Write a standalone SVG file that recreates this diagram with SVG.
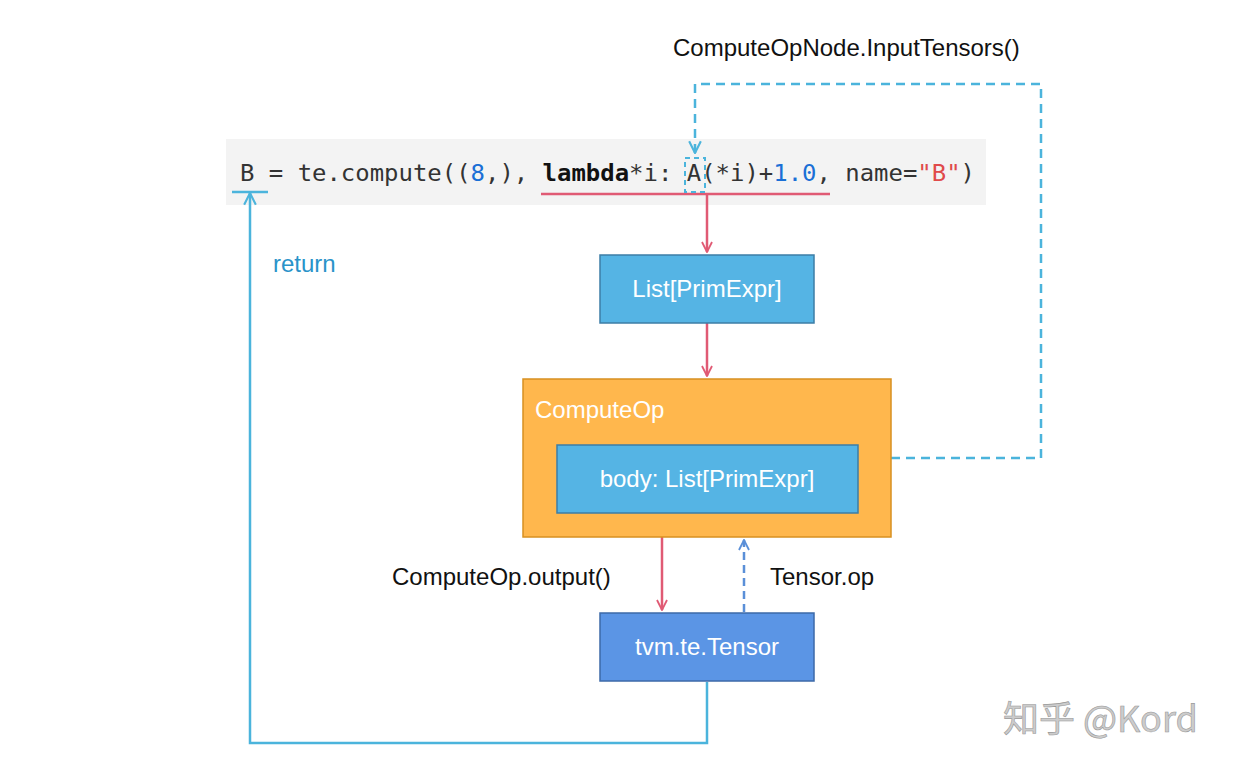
<svg xmlns="http://www.w3.org/2000/svg" width="1239" height="770" viewBox="0 0 1239 770">
<defs>
<marker id="ar" viewBox="0 0 12 12" refX="11" refY="6" markerWidth="12" markerHeight="12" markerUnits="userSpaceOnUse" orient="auto"><path d="M1,1 L11,6 L1,11" fill="none" stroke="#e05a74" stroke-width="1.8"/></marker>
<marker id="ab" viewBox="0 0 12 12" refX="11" refY="6" markerWidth="14" markerHeight="14" markerUnits="userSpaceOnUse" orient="auto"><path d="M1,1 L11,6 L1,11" fill="none" stroke="#4bb4dc" stroke-width="1.8"/></marker>
<marker id="ad" viewBox="0 0 12 12" refX="11" refY="6" markerWidth="12" markerHeight="12" markerUnits="userSpaceOnUse" orient="auto"><path d="M1,1 L11,6 L1,11" fill="none" stroke="#5a8fd8" stroke-width="1.8"/></marker>
<style>
text{font-family:"Liberation Sans",Arial,sans-serif;font-size:24px}
.w{fill:#fff}
.code{font-family:"DejaVu Sans Mono","Liberation Mono",monospace;font-size:23px;fill:#333}
.red{stroke:#e05a74;stroke-width:2.5;fill:none}
.blu{stroke:#4bb4dc;stroke-width:2.5;fill:none}
.dash{stroke:#4bb4dc;stroke-width:2.5;fill:none;stroke-dasharray:9,6}
</style>
</defs>
<rect x="226" y="139" width="760" height="66" fill="#f3f3f3"/>
<text class="code" x="240" y="181" textLength="735" lengthAdjust="spacingAndGlyphs">B = te.compute((<tspan fill="#1a6fd6">8</tspan>,), <tspan font-weight="bold" fill="#111">lambda</tspan>*i: A(*i)+<tspan fill="#1a6fd6">1.0</tspan>, name=<tspan fill="#e04a4a">"B"</tspan>)</text>
<text x="673" y="56" fill="#111">ComputeOpNode.InputTensors()</text>
<text x="273" y="272" fill="#2a93c9">return</text>
<g id="connectors">
<line class="red" x1="541" y1="194" x2="830" y2="194"/>
<line class="blu" x1="232" y1="192" x2="268" y2="192"/>
<rect x="685" y="158" width="20" height="34" fill="none" stroke="#4bb4dc" stroke-width="2" stroke-dasharray="5,4"/>
<line class="red" x1="707" y1="194" x2="707" y2="252" marker-end="url(#ar)"/>
<line class="red" x1="707" y1="323" x2="707" y2="376" marker-end="url(#ar)"/>
<line class="red" x1="662" y1="537" x2="662" y2="610" marker-end="url(#ar)"/>
<line x1="744" y1="612" x2="744" y2="540" stroke="#5a8fd8" stroke-width="2.5" stroke-dasharray="8,5" marker-end="url(#ad)"/>
<path class="dash" d="M891,458 H1041 V84 H695 V153" marker-end="url(#ab)"/>
<path class="blu" d="M707,682 V743 H250 V193" marker-end="url(#ab)"/>
</g>
<g id="list"><rect x="600" y="255" width="214" height="68" fill="#55b4e4" stroke="#3d7ea6" stroke-width="1.5"/><text class="w" x="707" y="297" text-anchor="middle">List[PrimExpr]</text></g>
<g id="computeop"><rect x="523" y="379" width="368" height="158" fill="#ffb74d" stroke="#d89020" stroke-width="1.5"/><text class="w" x="535" y="418">ComputeOp</text></g>
<g id="body"><rect x="557" y="445" width="301" height="68" fill="#55b4e4" stroke="#3d7ea6" stroke-width="1.5"/><text class="w" x="707" y="487" text-anchor="middle">body: List[PrimExpr]</text></g>
<g id="tensor"><rect x="600" y="613" width="214" height="68" fill="#5b95e5" stroke="#3d6aa8" stroke-width="1.5"/><text class="w" x="707" y="655" text-anchor="middle">tvm.te.Tensor</text></g>
<text x="392" y="585" fill="#111">ComputeOp.output()</text>
<text x="770" y="585" fill="#111">Tensor.op</text>
<text x="1003" y="732" fill="#ccc" stroke="#999" stroke-width="0.6" style="font-family:'Noto Sans CJK SC','Liberation Sans',sans-serif;font-size:36px">知乎 @Kord</text>
</svg>
